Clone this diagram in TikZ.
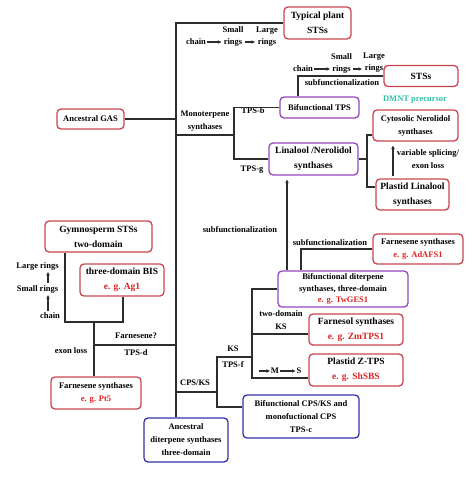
\documentclass[tikz,border=0pt]{standalone}
\usepackage{fontspec}
\setmainfont{Liberation Serif}
\usetikzlibrary{arrows.meta}
\definecolor{boxred}{RGB}{200,70,80}
\definecolor{boxpur}{RGB}{150,70,190}
\definecolor{boxblu}{RGB}{50,50,170}
\definecolor{txtred}{RGB}{220,35,35}
\definecolor{tealtxt}{RGB}{50,190,170}
\definecolor{linec}{RGB}{45,45,45}
\tikzset{
 basef/.style={font=\fontsize{8.5}{13}\selectfont\bfseries},
 bigf/.style={font=\fontsize{9.5}{15}\selectfont\bfseries},
 box/.style={draw, rounded corners=4pt, line width=1.3pt, align=center, inner sep=0pt, fill=white},
 rbox/.style={box, draw=boxred},
 pbox/.style={box, draw=boxpur},
 bbox/.style={box, draw=boxblu},
 lbl/.style={basef, align=center, inner sep=0pt},
 conn/.style={draw=linec, line width=1.35pt},
 arr/.style={draw=linec, line width=1.1pt, -{Stealth[length=3.5pt,width=3.5pt]}},
}
\newcommand{\eg}[1]{\textcolor{txtred}{e. g. #1}}
\begin{document}
\begin{tikzpicture}[x=1pt,y=-1pt]
\useasboundingbox (0,0) rectangle (474,477);
% boxes
\node[rbox,bigf,minimum width=67pt,minimum height=32pt] (typ) at (317.5,23) {Typical plant\\STSs};
\node[rbox,bigf,minimum width=74pt,minimum height=21pt] (sts) at (421,76) {STSs};
\node[pbox,basef,minimum width=79pt,minimum height=21pt] (bif) at (319.5,107.5) {Bifunctional TPS};
\node[rbox,basef,minimum width=85pt,minimum height=31pt] (cyt) at (415.5,125.5) {Cytosolic Nerolidol\\synthases};
\node[pbox,bigf,minimum width=89pt,minimum height=32pt] (lin) at (313.5,159) {Linalool /Nerolidol\\synthases};
\node[rbox,bigf,minimum width=73pt,minimum height=31pt] (pla) at (412.5,194.5) {Plastid Linalool\\synthases};
\node[rbox,basef,minimum width=67pt,minimum height=20pt] (gas) at (90.5,119) {Ancestral GAS};
\node[rbox,bigf,minimum width=107pt,minimum height=31pt] (gym) at (98.5,236.5) {Gymnosperm STSs\\two-domain};
\node[rbox,bigf,minimum width=84pt,minimum height=32pt] (bis) at (122,280) {three-domain BIS\\\eg{Ag1}};
\node[rbox,basef,minimum width=90pt,minimum height=32pt] (fpt) at (96,393) {Farnesene synthases\\\eg{Pt5}};
\node[rbox,basef,minimum width=90pt,minimum height=30pt] (faf) at (418,249) {Farnesene synthases\\\eg{AdAFS1}};
\node[pbox,font=\fontsize{8.5}{11.5}\selectfont\bfseries,minimum width=130pt,minimum height=36pt] (bdt) at (343,289) {Bifunctional diterpene\\synthases, three-domain\\\eg{TwGES1}};
\node[rbox,bigf,minimum width=94pt,minimum height=31pt] (fol) at (356,329.5) {Farnesol synthases\\\eg{ZmTPS1}};
\node[rbox,bigf,minimum width=94pt,minimum height=32pt] (pz) at (356,370) {Plastid Z-TPS\\\eg{ShSBS}};
\node[bbox,basef,minimum width=116pt,minimum height=43pt] (cps) at (301,416.5) {Bifunctional CPS/KS and\\monofuctional CPS\\TPS-c};
\node[bbox,basef,minimum width=84pt,minimum height=44pt] (dit) at (186,440) {Ancestral\\diterpene synthases\\three-domain};
% labels
\node[lbl] (ch1) at (196,42) {chain};
\node[lbl,font=\fontsize{8.5}{12}\selectfont\bfseries] (s1) at (233,36.5) {Small\\rings};
\node[lbl,font=\fontsize{8.5}{12}\selectfont\bfseries] (l1) at (267,37) {Large\\rings};
\node[lbl] (ch2) at (303,69) {chain};
\node[lbl,font=\fontsize{8.5}{12}\selectfont\bfseries] (s2) at (341.5,63) {Small\\rings};
\node[lbl,font=\fontsize{8.5}{12}\selectfont\bfseries] (l2) at (374,63) {Large\\rings};
\node[lbl] (mono) at (205,121.5) {Monoterpene\\synthases};
\node[lbl] (tpsb) at (253,111) {TPS-b};
\node[lbl] (tpsg) at (252,170) {TPS-g};
\node[lbl] (sub1) at (342,83) {subfunctionalization};
\node[lbl,text=tealtxt] (dmnt) at (415,100) {DMNT precursor};
\node[lbl] (splice) at (428,159) {variable splicing/\\exon loss};
\node[lbl] (sub2) at (240,230) {subfunctionalization};
\node[lbl] (sub3) at (330,243) {subfunctionalization};
\node[lbl] (twod) at (281,320.5) {two-domain\\KS};
\node[lbl] (ks) at (233,349) {KS};
\node[lbl] (tpsf) at (233,365) {TPS-f};
\node[lbl] (cpsks) at (195,383) {CPS/KS};
\node[lbl] (mm) at (275,371) {M};
\node[lbl] (ss) at (299,371) {S};
\node[lbl] (farq) at (136,336) {Farnesene?};
\node[lbl] (tpsd) at (136,353) {TPS-d};
\node[lbl] (exon) at (71,351) {exon loss};
\node[lbl] (lr) at (37.5,266) {Large rings};
\node[lbl] (sr) at (37.5,289) {Small rings};
\node[lbl] (ch3) at (50,316) {chain};
% coordinates
\coordinate (mx) at (176,0);
\coordinate (mb) at (234,135);
\coordinate (sa) at (298,0);
\coordinate (b1) at (367,135);
\coordinate (b2) at (367,187);
\coordinate (ua) at (393,0);
\coordinate (ub) at (287,0);
\coordinate (sc) at (301,0);
\coordinate (kz) at (252,378);
\coordinate (kf) at (252,334);
\coordinate (kt) at (217,357);
\coordinate (kb) at (217,407);
\coordinate (kc) at (217,392);
\coordinate (td) at (94,345);
\coordinate (bl) at (65,322);
\coordinate (br) at (123,322);
\coordinate (la) at (48,0);
\coordinate (ms) at (259,371);
% connectors
\draw[conn] (typ.west) -- (typ.west -| mx) -- (dit.north -| mx);
\draw[conn] (gas.east) -- (gas.east -| mx);
\draw[conn] (mb -| mx) -- (mb);
\draw[conn] (bif.west) -- (bif.west -| mb) -- (lin.west -| mb) -- (lin.west);
\draw[conn] (bif.north -| sa) |- (sts.west);
\draw[conn] (lin.east) -- (lin.east -| b1);
\draw[conn] (b1 -| cyt.west) -- (b1) -- (b2) -- (b2 -| pla.west);
\draw[arr, shorten <=2pt, shorten >=4pt] (pla.north -| ua) -- (cyt.south -| ua);
\draw[arr, shorten >=4pt] (bdt.north -| ub) -- (lin.south -| ub);
\draw[conn] (bdt.north -| sc) |- (faf.west);
\draw[conn] (bdt.west) -- (bdt.west -| kz) -- (kz) -- (kz -| pz.west);
\draw[conn] (kf) -- (kf -| fol.west);
\draw[conn] (kt -| kz) -- (kt) -- (kb) -- (kb -| cps.west);
\draw[conn] (kc -| mx) -- (kc);
\draw[conn] (td -| mx) -- (td);
\draw[conn] (gym.south -| bl) -- (bl) -- (br) -- (bis.south -| br);
\draw[conn] (bl -| td) -- (fpt.north -| td);
% small arrows
\draw[arr, shorten <=1pt, shorten >=1pt] (ch1.east) -- (ch1.east -| s1.west);
\draw[arr, shorten <=1pt, shorten >=1pt] (ch1.east -| s1.east) -- (ch1.east -| l1.west);
\draw[arr, shorten <=1pt, shorten >=1pt] (ch2.east) -- (ch2.east -| s2.west);
\draw[arr, shorten <=1pt, shorten >=1pt] (ch2.east -| s2.east) -- (ch2.east -| l2.west);
\draw[arr, shorten <=2pt, shorten >=2pt] (sr.north -| la) -- (lr.south -| la);
\draw[arr, shorten <=2pt, shorten >=2pt] (ch3.north -| la) -- (sr.south -| la);
\draw[arr, shorten >=1pt] (ms) -- (mm.west);
\draw[arr, shorten <=1pt, shorten >=1pt] (mm.east) -- (ss.west);
\end{tikzpicture}
\end{document}
